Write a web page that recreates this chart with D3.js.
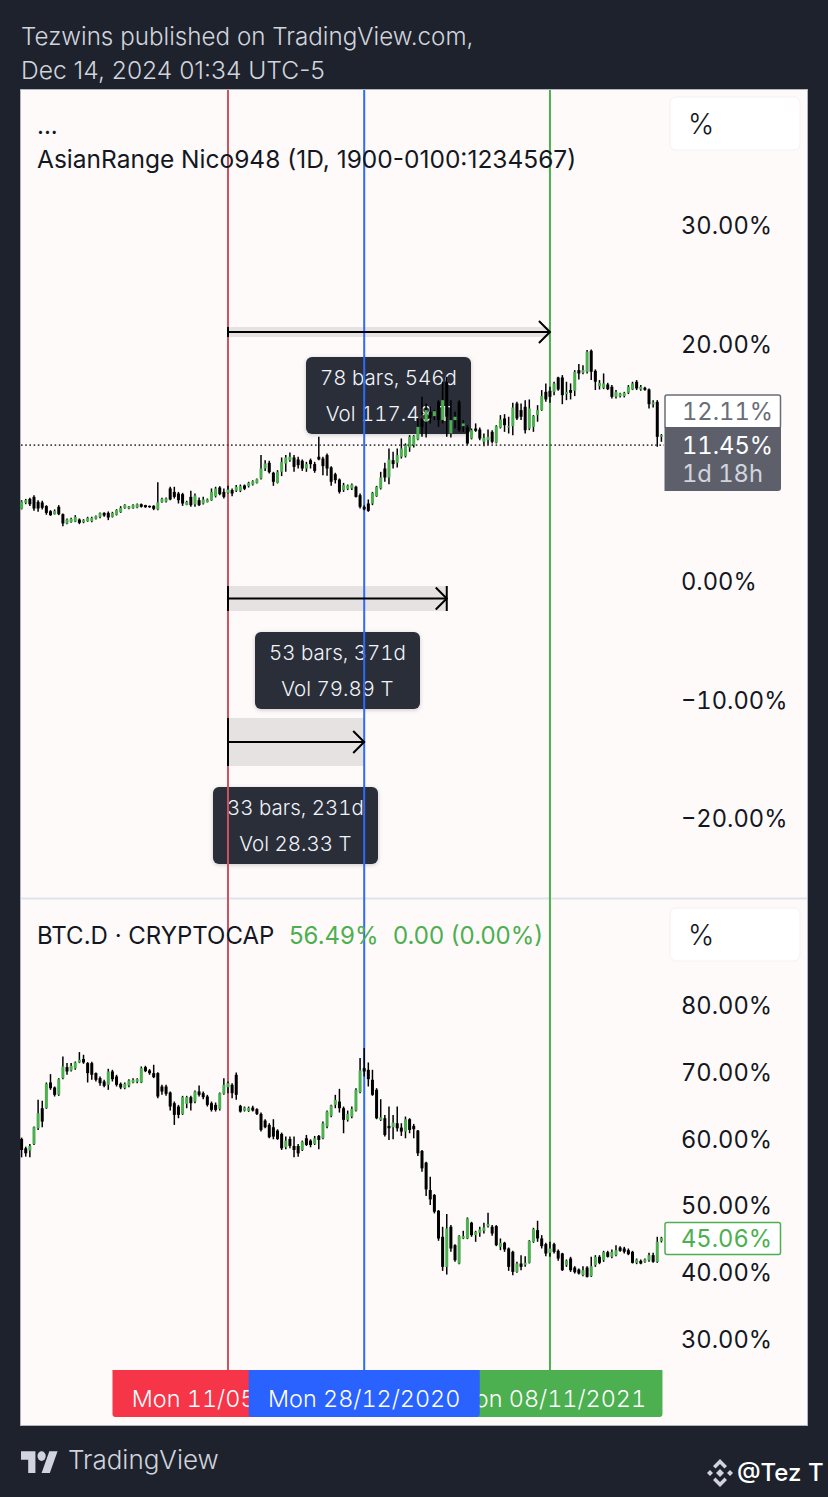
<!DOCTYPE html>
<html>
<head>
<meta charset="utf-8">
<script src="https://cdn.jsdelivr.net/npm/d3@7"></script>
<style>
  html, body { margin: 0; padding: 0; background: #1e222d; }
  svg { display: block; }
  text { font-family: Inter, "Noto Sans", sans-serif; font-variant-numeric: tabular-nums; font-feature-settings: "tnum" 1; }
  text.plain { font-variant-numeric: normal; font-feature-settings: normal; }
  .axis text { font-family: Inter, "Noto Sans", sans-serif; font-size: 23.7px; fill: #131722; }
  .axis path, .axis line { display: none; }
</style>
</head>
<body>
<div id="chart"></div>
<script>
// AsianRange, upper pane, percent
const topOpen = [
6.08,6.59,6.92,7.09,6.67,6.62,6.31,5.88,5.63,6.25,
5.63,4.85,4.96,5.01,5.18,4.96,5.04,5.04,5.24,5.41,
5.74,5.74,5.41,5.58,5.80,6.14,6.11,6.14,6.19,6.47,
6.39,6.33,6.33,6.03,6.64,6.70,7.80,7.51,7.37,7.32,
6.42,7.09,6.47,6.81,6.53,6.64,6.81,7.15,7.88,7.51,
7.43,7.66,7.60,7.60,8.05,7.99,8.13,8.27,8.64,9.48,
9.96,9.12,8.27,9.20,9.90,10.18,10.41,10.24,10.13,9.48,
10.18,9.85,10.47,10.32,10.61,9.57,9.00,8.55,7.66,7.77,
7.80,7.94,7.23,6.25,6.53,6.53,7.15,7.80,9.48,8.72,
10.18,9.96,10.47,10.52,11.25,11.45,11.93,13.70,13.42,14.26,
13.89,15.10,13.56,16.79,12.43,13.56,15.10,13.05,12.94,12.01,
12.85,12.77,11.73,11.87,12.57,11.65,12.94,13.70,12.94,13.05,
14.96,14.40,14.68,12.85,12.99,13.98,14.40,15.94,16.03,15.94,
17.15,17.15,15.75,16.09,16.03,17.77,17.55,17.63,19.40,17.71,
16.42,16.28,16.56,16.37,15.52,15.58,15.58,15.86,16.14,16.79,
16.14,16.28,16.14,14.88,15.10,12.15];
const topClose = [
6.70,6.81,6.47,6.11,6.11,6.17,5.74,5.55,5.91,5.63,
4.85,5.18,5.24,5.41,4.90,5.13,5.32,5.32,5.46,5.72,
5.52,5.35,5.74,5.97,6.17,6.42,6.28,6.39,6.47,6.25,
6.22,6.22,6.08,6.64,6.92,6.95,6.87,7.09,6.81,6.53,
6.67,6.39,7.21,6.39,6.87,6.87,7.51,7.80,7.32,7.09,
7.71,7.37,7.94,7.99,7.77,8.27,8.41,8.58,9.48,9.90,
9.17,8.36,9.20,10.04,10.41,10.47,9.62,9.76,9.48,9.85,
9.85,9.28,10.24,9.68,9.48,8.36,8.50,7.51,8.08,8.05,
8.13,7.09,6.25,6.03,5.91,7.43,7.94,8.72,8.72,10.24,
9.85,10.61,11.17,11.45,12.15,12.21,12.99,12.99,14.40,13.70,
14.31,13.56,15.24,13.84,13.56,13.84,12.71,13.28,11.59,12.71,
12.66,12.01,12.07,12.15,11.73,13.05,13.61,13.13,13.05,14.62,
13.70,13.84,12.71,14.54,13.89,14.40,15.58,15.30,15.52,16.65,
16.14,15.66,15.94,15.86,17.63,17.49,17.77,19.32,17.63,16.79,
16.70,16.65,16.17,15.52,15.94,15.80,15.86,16.37,16.65,16.23,
16.37,16.11,14.90,15.05,12.15,12.29];
const topHigh = [
6.81,6.92,7.01,7.23,6.81,6.76,6.39,5.97,6.03,6.39,
5.69,5.27,5.32,5.55,5.27,5.21,5.41,5.41,5.52,5.77,
5.80,5.86,5.83,6.05,6.31,6.47,6.33,6.47,6.53,6.53,
6.42,6.36,6.39,8.33,7.01,7.04,7.94,7.94,7.51,7.43,
6.76,7.60,7.37,7.04,7.09,6.95,7.80,7.94,7.99,7.80,
8.02,7.80,8.08,8.13,8.13,8.36,8.50,8.64,10.61,10.18,
10.13,9.20,9.34,10.41,10.61,10.83,10.61,10.47,10.24,10.04,
10.32,10.04,12.15,10.47,10.75,9.68,9.12,8.64,8.27,8.13,
8.22,8.02,7.37,6.39,6.87,7.51,8.02,9.20,9.96,11.17,
10.89,11.17,12.01,11.59,12.29,12.29,13.70,15.52,14.96,14.68,
14.40,15.24,16.79,17.21,15.24,14.26,15.24,13.56,13.13,12.85,
13.28,12.94,12.43,12.77,12.71,13.13,13.98,14.06,13.84,15.02,
15.10,14.96,15.24,15.30,13.98,14.82,16.09,16.65,16.37,16.79,
17.21,17.35,16.79,16.65,17.77,18.28,18.19,19.46,19.51,17.83,
16.93,17.49,16.70,16.51,16.09,15.86,15.94,16.51,16.79,16.93,
16.51,16.37,16.23,15.24,15.24,12.38];
const topLow = [
6.03,6.47,6.33,5.91,5.83,6.03,5.58,5.49,5.60,5.55,
4.62,4.79,4.90,4.96,4.79,4.87,4.99,4.96,5.18,5.29,
5.41,5.13,5.35,5.52,5.74,6.08,6.05,6.08,6.14,6.19,
6.17,6.17,5.97,5.97,6.59,6.62,6.81,6.95,6.53,6.33,
6.39,6.25,6.25,6.31,6.45,6.62,6.76,7.04,7.23,6.95,
7.37,7.15,7.51,7.49,7.66,7.88,8.05,8.22,8.55,9.28,
9.06,8.02,8.22,8.84,9.20,10.04,9.20,9.48,9.28,9.20,
9.48,9.12,10.18,8.92,8.86,8.02,8.22,7.37,7.51,7.66,
7.66,7.04,6.11,5.97,5.83,6.39,7.09,7.71,8.36,8.16,
9.48,9.57,10.32,10.41,10.89,11.25,11.87,12.15,12.09,13.28,
13.56,12.99,13.28,12.15,12.09,12.85,12.57,12.57,11.45,11.93,
12.57,11.87,11.36,11.45,11.59,11.59,12.85,12.57,12.43,12.29,
13.56,13.56,12.43,12.71,12.57,13.42,14.34,15.10,15.02,15.66,
16.03,14.90,15.24,15.30,15.58,16.98,17.43,17.49,16.93,16.09,
16.14,16.17,16.09,15.38,15.38,15.47,15.47,15.75,16.09,16.09,
16.03,16.03,14.54,14.62,11.31,11.73];

// BTC.D, lower pane, percent
const btcOpen = [
59.95,58.55,58.2,59.2,61.55,64.55,64.55,68.4,67.65,66.55,
69.05,70.7,70.2,70.5,71.4,71.9,71.3,71.3,69.8,69.05,
68.55,68.05,70.05,69.3,68.2,67.55,67.95,68.4,68.5,68.4,
70.7,70.2,69.8,69.8,67.8,67.8,66.9,65.3,64.8,63.7,
65.2,66.2,65.55,67.05,66.8,66.3,65.3,65.05,64.45,66.7,
67.7,68.05,69.55,64.9,64.2,64.15,64.65,64.4,63.7,62.7,
62.05,61.7,61.2,60.7,58.7,59.95,58.9,58.9,58.3,60.05,
59.7,59.2,60.4,60.05,61.8,63.4,65.05,65.55,64.55,62.8,
63.3,64.2,66.95,70.55,70.3,68.8,67.3,62.8,63.05,61.9,
61.7,62.3,61.65,61.05,62.9,61.9,61.2,58.15,56.4,52.3,
51.55,49.2,45.3,40.8,46.8,44.05,41.3,45.05,45.05,47.4,
45.55,45.9,46.2,46.9,46.8,46.9,43.8,44.4,43.55,43.05,
40.05,41.3,41.1,41.4,44.55,46.3,45.05,44.2,42.9,44.2,
43.2,42.8,41.05,42.05,40.7,40.4,39.55,40.7,39.4,41.05,
42.3,41.8,43.0,42.3,42.55,43.7,43.55,43.3,43.05,41.4,
41.7,41.55,41.8,42.55,41.55,44.65];
const btcClose = [
58.3,57.8,58.9,61.7,63.8,62.55,68.2,67.55,66.55,68.9,
70.8,70.05,70.9,71.4,71.8,71.4,69.8,69.55,68.8,68.3,
67.9,70.05,68.9,68.05,67.65,68.2,68.7,68.8,68.9,70.55,
70.1,69.8,69.2,66.3,67.05,66.7,64.8,63.55,63.55,66.2,
66.2,65.3,67.05,66.55,66.2,65.05,64.3,64.3,66.8,68.05,
68.3,66.8,66.55,64.05,64.65,64.6,64.2,63.7,61.3,61.7,
60.2,60.3,59.95,58.55,59.7,58.9,58.3,57.8,59.55,59.05,
59.05,60.05,59.8,62.3,64.05,64.95,65.8,64.55,62.8,63.7,
64.45,67.3,70.2,70.05,68.9,66.55,63.05,63.2,60.55,61.55,
62.4,61.55,61.05,62.9,61.3,61.4,57.8,55.55,52.4,50.9,
49.05,45.05,40.8,46.55,43.55,41.8,45.4,45.4,48.05,45.55,
46.05,46.4,46.7,47.2,45.8,44.05,44.4,43.4,40.8,40.05,
41.3,40.8,41.4,44.7,46.45,45.05,43.9,42.8,43.55,43.05,
42.05,40.3,41.7,40.3,40.0,39.8,40.3,39.3,40.9,42.3,
41.4,43.0,42.3,43.05,43.3,43.2,43.05,42.7,41.4,41.9,
41.3,41.9,42.55,41.55,44.55,45.15];
const btcHigh = [
60.15,58.8,59.2,61.8,65.8,65.65,68.4,69.65,67.8,69.05,
72.3,71.3,71.3,71.55,72.95,72.55,71.45,71.5,69.9,69.3,
68.8,70.45,70.3,69.55,68.4,68.4,68.9,69.05,69.05,70.8,
70.9,70.4,71.05,69.95,68.05,68.05,67.05,65.55,65.05,66.4,
66.4,66.4,67.2,67.95,67.05,66.55,65.55,65.4,66.9,69.05,
68.55,68.3,69.9,65.05,64.8,64.8,64.9,64.55,63.9,62.9,
62.3,62.9,61.4,60.9,60.3,60.3,60.3,59.2,59.7,60.55,
59.9,60.4,60.55,62.55,64.2,65.05,66.55,67.45,64.8,64.2,
64.8,67.55,72.05,73.55,71.4,70.3,67.55,65.9,63.55,64.8,
63.55,64.8,62.3,63.3,63.05,62.2,61.3,58.3,56.55,54.3,
51.7,49.3,46.8,48.7,47.05,44.2,45.55,46.2,48.2,47.55,
46.2,46.8,47.4,48.9,47.05,47.05,45.05,44.55,43.7,43.2,
41.55,42.55,42.4,44.8,46.65,47.7,45.55,44.4,44.55,44.4,
43.4,42.9,41.9,42.3,40.9,40.55,40.9,40.9,42.3,42.55,
42.55,43.2,43.2,43.4,44.05,43.9,43.8,43.55,43.2,42.05,
41.9,42.05,42.9,42.9,45.3,45.3];
const btcLow = [
57.2,57.3,57.2,59.05,61.3,61.7,64.45,67.3,66.3,66.4,
68.9,69.55,70.05,70.3,71.3,71.2,68.4,68.8,68.55,67.9,
67.7,67.3,68.55,67.8,67.4,67.4,67.7,68.3,68.3,68.3,
69.95,69.55,69.05,66.05,66.55,66.4,64.2,62.05,63.05,63.55,
64.55,64.2,65.3,66.3,65.9,64.8,64.05,64.05,64.2,66.55,
66.8,66.05,65.8,63.9,64.05,64.0,64.05,63.55,61.05,61.55,
60.05,59.9,59.8,58.3,58.4,58.55,57.2,57.3,58.15,58.9,
58.7,59.05,58.4,59.9,61.55,63.2,64.55,63.9,60.8,62.55,
63.05,64.05,66.8,69.3,67.8,66.4,62.9,62.65,60.3,59.8,
59.9,61.05,60.4,60.05,60.8,60.05,57.4,55.05,51.4,50.05,
48.8,44.7,40.2,39.65,43.05,41.55,41.2,44.95,44.95,45.3,
44.55,45.3,45.8,46.7,45.45,43.9,43.3,43.05,40.2,39.55,
39.9,40.3,40.8,41.3,44.4,44.55,43.55,42.4,42.3,42.8,
41.7,40.2,40.8,40.05,39.8,39.65,39.4,39.2,39.3,40.8,
41.2,41.55,42.2,42.1,42.4,43.05,42.8,42.55,41.3,41.2,
41.2,41.4,41.55,41.4,41.4,44.45];

const topTicks = [30, 20, 0, -10, -20];
const btcTicks = [80, 70, 60, 50, 40, 30];

// vertical markers: bar index, colour of line and of date label
const markerBars = [50, 128, 83];
const markerDates = ["Mon 11/05/2020", "Mon 08/11/2021", "Mon 28/12/2020"];
const markerLine = ["#cc5262", "#4caf50", "#2f6bf6"];
const markerFill = ["#f63548", "#4caf50", "#2962ff"];

// measured ranges: from bar, to bar, band top and bottom in percent
const rangeFrom = [50, 50, 50];
const rangeTo = [128, 103, 83];
const rangeHigh = [21.40, -0.42, -11.54];
const rangeLow = [20.56, -2.53, -15.59];
const rangeLine1 = ["78 bars, 546d", "53 bars, 371d", "33 bars, 231d"];
const rangeLine2 = ["Vol 117.48 T", "Vol 79.89 T", "Vol 28.33 T"];
const tipLeft = [306, 255, 213];
const tipTop = [357, 632, 787];

const green = "#4caf50";
const width = 828, height = 1497;

const svg = d3.select("#chart").append("svg")
  .attr("width", width).attr("height", height);

const defs = svg.append("defs");
const shadow = defs.append("filter").attr("id", "tipshadow")
  .attr("x", "-10%").attr("y", "-10%").attr("width", "120%").attr("height", "125%");
shadow.append("feDropShadow").attr("dx", 0).attr("dy", 1).attr("stdDeviation", 2)
  .attr("flood-color", "#000").attr("flood-opacity", 0.2);

const x = d3.scaleLinear().domain([0, 155]).range([21.6, 661.4]);
const yTop = d3.scaleLinear().domain([0, 30]).range([581, 225]);
const yBtc = d3.scaleLinear().domain([30, 80]).range([1339, 1005]);

// page background and panel
svg.append("rect").attr("width", width).attr("height", height).attr("fill", "#1e222d");
svg.append("rect").attr("x", 20.5).attr("y", 89.5).attr("width", 787).attr("height", 1336)
  .attr("fill", "#fffafa").attr("stroke", "#b2b5be").attr("stroke-width", 1);
svg.append("line").attr("x1", 21).attr("x2", 807).attr("y1", 898.5).attr("y2", 898.5)
  .attr("stroke", "#e0e3eb").attr("stroke-width", 2);

// header
const header = ["Tezwins published on TradingView.com,", "Dec 14, 2024 01:34 UTC-5"];
svg.selectAll("text.header").data(header).enter().append("text")
  .attr("class", "header plain")
  .attr("x", 21).attr("y", (d, i) => 45 + i * 34)
  .attr("font-size", (d, i) => i == 0 ? 24.2 : 24.6).attr("font-weight", 300).attr("fill", "#d1d4dc")
  .text(d => d);

// range bands under everything
const ranges = d3.range(3);
svg.selectAll("rect.band").data(ranges).enter().append("rect")
  .attr("class", "band")
  .attr("x", i => x(rangeFrom[i]))
  .attr("width", i => x(rangeTo[i]) - x(rangeFrom[i]))
  .attr("y", i => yTop(rangeHigh[i]))
  .attr("height", i => yTop(rangeLow[i]) - yTop(rangeHigh[i]))
  .attr("fill", "#e6e2e1");

// tooltips of the ranges
const tip = svg.selectAll("g.tip").data(ranges).enter().append("g").attr("class", "tip")
  .attr("transform", i => "translate(" + tipLeft[i] + "," + tipTop[i] + ")");
tip.append("rect").attr("width", 165).attr("height", 77).attr("rx", 6)
  .attr("fill", "#2a2e39").attr("filter", "url(#tipshadow)");
tip.append("text").attr("x", 82.5).attr("y", 27.5).attr("text-anchor", "middle")
  .attr("font-size", 20.5).attr("font-weight", 300).attr("fill", "#f0f3fa").text(i => rangeLine1[i]);
tip.append("text").attr("x", 82.5).attr("y", 63.5).attr("text-anchor", "middle")
  .attr("font-size", 20.5).attr("font-weight", 300).attr("fill", "#f0f3fa").text(i => rangeLine2[i]);

// vertical lines, the candles lie on top of them
svg.selectAll("line.marker").data(markerBars).enter().append("line")
  .attr("class", "marker")
  .attr("x1", d => x(d)).attr("x2", d => x(d))
  .attr("y1", 90).attr("y2", 1370)
  .attr("stroke", (d, i) => markerLine[i]).attr("stroke-width", 2);

function drawCandles(cls, y, open, close, high, low) {
  const bars = d3.range(open.length);
  const g = svg.selectAll("g." + cls).data(bars).enter().append("g").attr("class", cls);
  g.append("line")
    .attr("x1", i => x(i)).attr("x2", i => x(i))
    .attr("y1", i => y(high[i])).attr("y2", i => y(low[i]))
    .attr("stroke", "#000").attr("stroke-width", 1.5);
  g.append("rect")
    .attr("x", i => x(i) - 1.5).attr("width", 3)
    .attr("y", i => y(Math.max(open[i], close[i])))
    .attr("height", i => Math.max(1, Math.abs(y(open[i]) - y(close[i]))))
    .attr("fill", i => close[i] >= open[i] ? green : "#000");
}
drawCandles("topbar", yTop, topOpen, topClose, topHigh, topLow);
drawCandles("btcbar", yBtc, btcOpen, btcClose, btcHigh, btcLow);

// last price dotted line
const lastPrice = 11.45;
svg.append("line").attr("x1", 21).attr("x2", 664)
  .attr("y1", yTop(lastPrice)).attr("y2", yTop(lastPrice))
  .attr("stroke", "#444").attr("stroke-width", 1.6).attr("stroke-dasharray", "1.6 2.6");

// arrows of the ranges
const arrow = svg.selectAll("g.arrow").data(ranges).enter().append("g").attr("class", "arrow")
  .attr("fill", "none").attr("stroke", "#000").attr("stroke-width", 2);
arrow.append("line")
  .attr("x1", i => x(rangeFrom[i])).attr("x2", i => x(rangeFrom[i]))
  .attr("y1", i => yTop(rangeHigh[i])).attr("y2", i => yTop(rangeLow[i]));
arrow.append("line")
  .attr("x1", i => x(rangeFrom[i])).attr("x2", i => x(rangeTo[i]))
  .attr("y1", i => (yTop(rangeHigh[i]) + yTop(rangeLow[i])) / 2)
  .attr("y2", i => (yTop(rangeHigh[i]) + yTop(rangeLow[i])) / 2);
arrow.append("path")
  .attr("d", i => {
    const ax = x(rangeTo[i]), ay = (yTop(rangeHigh[i]) + yTop(rangeLow[i])) / 2;
    return "M" + (ax - 11) + "," + (ay - 11) + "L" + ax + "," + ay + "L" + (ax - 11) + "," + (ay + 11);
  });
arrow.filter(i => i == 1).append("line")
  .attr("x1", i => x(rangeTo[i])).attr("x2", i => x(rangeTo[i]))
  .attr("y1", i => yTop(rangeHigh[i])).attr("y2", i => yTop(rangeLow[i]));

// date labels, blue last so it covers the others
const dateLabel = svg.selectAll("g.date").data(markerBars).enter().append("g").attr("class", "date");
dateLabel.append("path")
  .attr("d", d => {
    const w = d == 128 ? 112.5 : 115.5, l = x(d) - w, r = x(d) + w;
    return "M" + l + ",1370H" + r + "V1414a3,3 0 0 1 -3,3H" + (l + 3) + "a3,3 0 0 1 -3,-3Z";
  })
  .attr("fill", (d, i) => markerFill[i]);
dateLabel.append("text")
  .attr("x", d => x(d)).attr("y", 1407).attr("text-anchor", "middle")
  .attr("font-size", 23.4).attr("font-weight", 300).attr("fill", "#fff")
  .text((d, i) => markerDates[i]);

// axes
function pctFormat(d) {
  return (d < 0 ? "\u2212" : "") + Math.abs(d).toFixed(2) + "%";
}
svg.append("g").attr("class", "axis").attr("transform", "translate(681,1)")
  .call(d3.axisRight(yTop).tickValues(topTicks).tickSize(0).tickPadding(0).tickFormat(pctFormat));
svg.append("g").attr("class", "axis").attr("transform", "translate(681,1)")
  .call(d3.axisRight(yBtc).tickValues(btcTicks).tickSize(0).tickPadding(0).tickFormat(pctFormat));

// percent buttons
[97, 908].forEach(function(top) {
  svg.append("rect").attr("x", 670).attr("y", top).attr("width", 130).attr("height", 53).attr("rx", 6)
    .attr("fill", "#fff").attr("stroke", "#f5f1f0").attr("stroke-width", 1);
  svg.append("text").attr("x", 688).attr("y", top + 37).attr("font-size", 28).attr("font-weight", 300)
    .attr("fill", "#131722").text("%");
});

// last value labels
const labelUpper = [12.11, 11.45];
svg.append("rect").attr("x", 665).attr("y", 395).attr("width", 115.5).attr("height", 33).attr("rx", 2)
  .attr("fill", "#fff").attr("stroke", "#6a6d78").attr("stroke-width", 1.5);
svg.append("text").attr("x", 682).attr("y", 420).attr("font-size", 23.7).attr("fill", "#6a6d78")
  .text(labelUpper[0].toFixed(2) + "%");
svg.append("path").attr("d", "M664.5,427H781V488a3,3 0 0 1 -3,3H664.5Z").attr("fill", "#5d606b");
svg.append("text").attr("x", 682).attr("y", 454).attr("font-size", 23.7).attr("fill", "#fff")
  .text(labelUpper[1].toFixed(2) + "%");
svg.append("text").attr("x", 682).attr("y", 482).attr("font-size", 23.7).attr("fill", "#d1d4dc")
  .text("1d 18h");

const labelLower = 45.06;
svg.append("rect").attr("x", 665).attr("y", 1222.5).attr("width", 115.5).attr("height", 32).attr("rx", 2)
  .attr("fill", "#fff").attr("stroke", green).attr("stroke-width", 1.5);
svg.append("text").attr("x", 681).attr("y", 1247).attr("font-size", 23.7).attr("fill", green)
  .text(labelLower.toFixed(2) + "%");

// legends
svg.append("text").attr("class", "plain").attr("x", 37).attr("y", 134).attr("font-size", 24).attr("fill", "#131722").text("...");
svg.append("text").attr("class", "plain").attr("x", 37).attr("y", 168).attr("font-size", 24.5).attr("fill", "#131722")
  .text("AsianRange Nico948 (1D, 1900-0100:1234567)");
svg.append("text").attr("class", "plain").attr("x", 37).attr("y", 944).attr("font-size", 24).attr("fill", "#131722")
  .text("BTC.D \u00b7 CRYPTOCAP");
svg.append("text").attr("class", "plain").attr("x", 289).attr("y", 944).attr("font-size", 24).attr("fill", green).text("56.49%");
svg.append("text").attr("class", "plain").attr("x", 393).attr("y", 944).attr("font-size", 24).attr("fill", green).text("0.00 (0.00%)");

// footer, TradingView logo
const logo = svg.append("g").attr("transform", "translate(21,1446.5) scale(1.03,1.2)").attr("fill", "#d1d4dc");
logo.append("path").attr("d", "M14 22H7V11H0V4h14v18zM28 22h-8l7.5-18h8L28 22z");
logo.append("circle").attr("cx", 20).attr("cy", 8).attr("r", 4);
svg.append("text").attr("x", 68).attr("y", 1469).attr("font-size", 26).attr("font-weight", 300)
  .attr("fill", "#d1d4dc").text("TradingView");

// watermark
const mark = svg.append("g").attr("transform", "translate(720,1473)").attr("fill", "#d1d4dc");
mark.append("path").attr("d", "M0,-4L4,0L0,4L-4,0Z");
mark.append("path").attr("d", "M0,-14L7,-7L4.5,-4.5L0,-9L-4.5,-4.5L-7,-7Z");
mark.append("path").attr("d", "M0,14L7,7L4.5,4.5L0,9L-4.5,4.5L-7,7Z");
mark.append("path").attr("d", "M-13,0L-10,-3L-7,0L-10,3Z");
mark.append("path").attr("d", "M13,0L10,-3L7,0L10,3Z");
svg.append("text").attr("x", 737).attr("y", 1481).attr("font-size", 24).attr("font-weight", 500)
  .attr("fill", "#fff").text("@Tez T");
</script>
</body>
</html>
